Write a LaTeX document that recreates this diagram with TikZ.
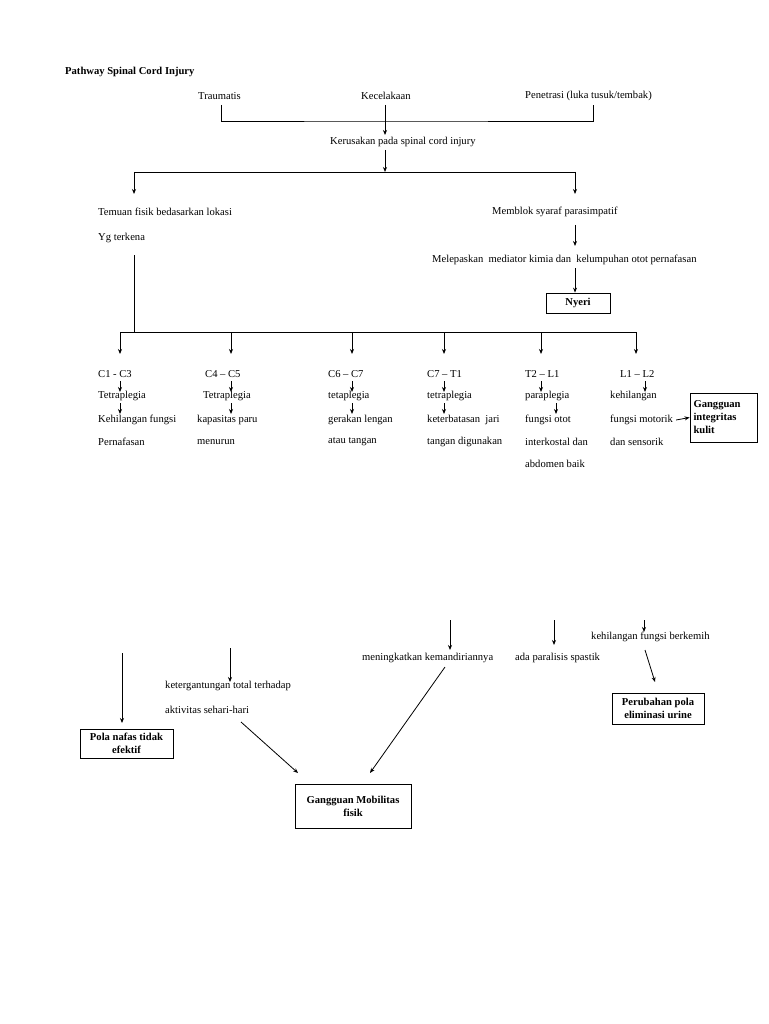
\documentclass[tikz,border=0pt]{standalone}
\usepackage{fontspec}
\setmainfont{Liberation Serif}
\usetikzlibrary{arrows.meta}
\begin{document}
\begin{tikzpicture}[x=1pt,y=-1pt,
 t/.style={anchor=west,inner sep=0pt,font=\fontsize{10.6}{12}\selectfont},
 box/.style={draw,thick,inner sep=0pt,font=\fontsize{10.6}{13}\selectfont\bfseries,align=center},
 ar/.style={-{Stealth[length=5pt,width=4pt]}},
 ln/.style={line width=0.8pt}]
\useasboundingbox (0,0) rectangle (768,1024);
\node[t,font=\fontsize{10.6}{12}\selectfont\bfseries] (title) at (65,72) {Pathway Spinal Cord Injury};
\node[t] (tr) at (198,96) {Traumatis};
\node[t] (kc) at (361,96) {Kecelakaan};
\node[t] (pn) at (525,96) {Penetrasi (luka tusuk/tembak)};
\coordinate (a1) at (221,105); \coordinate (a2) at (593,105);
\draw[ln] (a1) |- (385,121) -| (a2);
\coordinate (k0) at (385,105); \coordinate (k1) at (385,135);
\draw[ln,ar] (k0) -- (k1);
\node[t] (ker) at (330,142) {Kerusakan pada spinal cord injury};
\coordinate (b0) at (385,150); \coordinate (b1) at (385,172);
\draw[ln,ar] (b0) -- (b1);
\coordinate (bl) at (134,172); \coordinate (br) at (575,172);
\draw[ln] (bl) -- (br);
\draw[ln,ar] (bl) -- (134,194);
\draw[ln,ar] (br) -- (575,194);
\node[t] (tem) at (98,212) {Temuan fisik bedasarkan lokasi};
\node[t] (yg) at (98,238) {Yg terkena};
\node[t] (mem) at (492,212) {Memblok syaraf parasimpatif};
\coordinate (m0) at (575,225); \coordinate (m1) at (575,246);
\draw[ln,ar] (m0) -- (m1);
\node[t] (mel) at (432,260) {Melepaskan\ \ mediator kimia dan\ \ kelumpuhan otot pernafasan};
\coordinate (n0) at (575,268);
\node[box,minimum width=64pt,minimum height=20pt] (nyeri) at (578,303) {Nyeri};
\draw[ln,ar] (n0) -- (nyeri.north -| n0);
\coordinate (v0) at (134,255); \coordinate (v1) at (134,332);
\draw[ln] (v0) -- (v1);
\draw[ln] (120,332) -- (636,332);
\foreach \x in {120,231,352,444,541,636} \draw[ln,ar] (\x,332) -- (\x,354);
% columns
\node[t] (c1a) at (98,374) {C1 - C3};
\node[t] (c1b) at (98,396) {Tetraplegia};
\node[t] (c1c) at (98,420) {Kehilangan fungsi};
\node[t] (c1d) at (98,442) {Pernafasan};
\node[t] (c2a) at (205,374) {C4 -- C5};
\node[t] (c2b) at (203,396) {Tetraplegia};
\node[t] (c2c) at (197,420) {kapasitas paru};
\node[t] (c2d) at (197,442) {menurun};
\node[t] (c3a) at (328,374) {C6 -- C7};
\node[t] (c3b) at (328,396) {tetaplegia};
\node[t] (c3c) at (328,420) {gerakan lengan};
\node[t] (c3d) at (328,442) {atau tangan};
\node[t] (c4a) at (427,374) {C7 -- T1};
\node[t] (c4b) at (427,396) {tetraplegia};
\node[t] (c4c) at (427,420) {keterbatasan\ \ jari};
\node[t] (c4d) at (427,442) {tangan digunakan};
\node[t] (c5a) at (525,374) {T2 -- L1};
\node[t] (c5b) at (525,396) {paraplegia};
\node[t] (c5c) at (525,420) {fungsi otot};
\node[t] (c5d) at (525,442) {interkostal dan};
\node[t] (c5e) at (525,464) {abdomen baik};
\node[t] (c6a) at (620,374) {L1 -- L2};
\node[t] (c6b) at (610,396) {kehilangan};
\node[t] (c6c) at (610,420) {fungsi motorik};
\node[t] (c6d) at (610,442) {dan sensorik};
\foreach \x/\y in {120/381,120/403,231/381,231/403,352/381,352/403,444/381,444/403,541/381,556/403,645/381}
  \draw[ln,ar] (\x,\y) -- (\x,\y+11);
\node[box,align=left,minimum width=67pt,minimum height=49pt,text width=60pt] (gik) at (723.5,417.5) {Gangguan\\integritas\\kulit};
\draw[ln,ar] (c6c.east) ++(3,0) -- (gik.west);
% bottom
\node[box,minimum width=93pt,minimum height=29pt] (pola) at (126.5,743.5) {Pola nafas tidak\\efektif};
\coordinate (p0) at (122,653);
\draw[ln,ar] (p0) -- (122,723);
\coordinate (q0) at (230,648); \draw[ln,ar] (q0) -- (230,682);
\node[t] (ket1) at (165,686) {ketergantungan total terhadap};
\node[t] (ket2) at (165,710) {aktivitas sehari-hari};
\node[box,minimum width=116pt,minimum height=44pt] (gm) at (353,806) {Gangguan Mobilitas\\fisik};
\coordinate (r0) at (241,722); \coordinate (r1) at (298,773);
\draw[ln,ar] (r0) -- (r1);
\coordinate (s0) at (450,620); \draw[ln,ar] (s0) -- (450,650);
\node[t] (men) at (362,658) {meningkatkan kemandiriannya};
\coordinate (s1) at (445,667); \coordinate (s2) at (370,773);
\draw[ln,ar] (s1) -- (s2);
\coordinate (u0) at (554,620); \draw[ln,ar] (u0) -- (554,645);
\node[t] (ada) at (515,658) {ada paralisis spastik};
\coordinate (w0) at (644,620); \draw[ln,ar] (w0) -- (644,632);
\node[t] (keh) at (591,637) {kehilangan fungsi berkemih};
\node[box,minimum width=92pt,minimum height=31pt] (pp) at (658,708.5) {Perubahan pola\\eliminasi urine};
\coordinate (w1) at (645,650); \coordinate (w2) at (655,682);
\draw[ln,ar] (w1) -- (w2);
\end{tikzpicture}
\end{document}
